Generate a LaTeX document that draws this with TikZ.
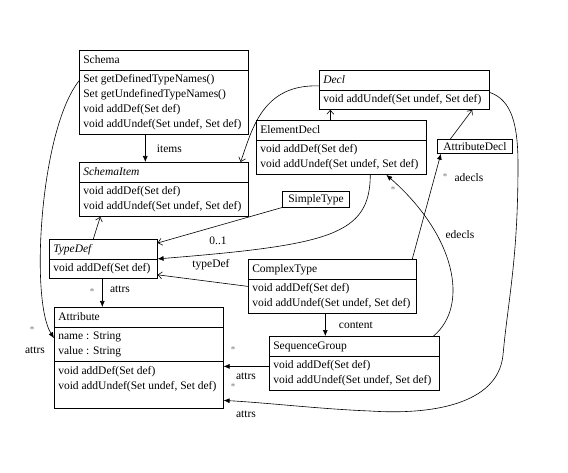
\documentclass[tikz,border=0pt]{standalone}
\usepackage{fontspec}
\setmainfont{Liberation Serif}
\usetikzlibrary{arrows.meta,shapes.multipart}

\begin{document}
\begin{tikzpicture}[x=1pt,y=-1pt,line width=0.6pt,
    font=\fontsize{11.5}{15}\selectfont,
    class/.style={draw,rectangle split,rectangle split parts=2,anchor=north west,
        align=left,rectangle split part align=left,inner xsep=4pt,inner ysep=2pt},
    box/.style={draw,anchor=north west,inner xsep=6pt,inner ysep=3pt},
    has/.style={-{Latex[length=6pt,width=5pt]}},
    isa/.style={-{Straight Barb[length=4pt,width=7pt]}},
    mult/.style={text=black!55,font=\small}]
\useasboundingbox (0,0) rectangle (568,473);
% classes
\node [class,minimum width=169pt] (schema) at (79,50) {\strut Schema
    \nodepart{two}\strut Set getDefinedTypeNames()\\ \strut Set getUndefinedTypeNames()\\
    \strut void addDef(Set def)\\ \strut void addUndef(Set undef, Set def)};
\node [class,minimum width=169pt] (item) at (79,162) {\strut\textit{SchemaItem}
    \nodepart{two}\strut void addDef(Set def)\\ \strut void addUndef(Set undef, Set def)};
\node [class,minimum width=170pt] (decl) at (319,70) {\strut\textit{Decl}
    \nodepart{two}\strut void addUndef(Set undef, Set def)};
\node [class,minimum width=170pt] (elem) at (256,120) {\strut ElementDecl
    \nodepart{two}\strut void addDef(Set def)\\ \strut void addUndef(Set undef, Set def)};
\node [box] (attdecl) at (437,139) {AttributeDecl};
\node [box] (simple) at (282,191) {SimpleType};
\node [class,minimum width=108pt] (typedef) at (49,239) {\strut\textit{TypeDef}
    \nodepart{two}\strut void addDef(Set def)};
\node [class,rectangle split parts=3,minimum width=169pt] (attr) at (54,307) {\strut Attribute
    \nodepart{two}\strut name : String\\ \strut value : String
    \nodepart{three}\strut void addDef(Set def)\\ \strut void addUndef(Set undef, Set def)\\[-3pt] \strut};
\node [class,minimum width=168pt] (complex) at (248,259) {\strut ComplexType
    \nodepart{two}\strut void addDef(Set def)\\ \strut void addUndef(Set undef, Set def)};
\node [class,minimum width=170pt] (seq) at (269,336) {\strut SequenceGroup
    \nodepart{two}\strut void addDef(Set def)\\ \strut void addUndef(Set undef, Set def)};

% inheritance
\draw [isa] ([xshift=-10pt]typedef.north) -- ([xshift=-63.5pt]item.south);
\draw [isa] ([yshift=4pt]decl.west) .. controls (262,84) and (252,130) .. ([xshift=-8pt]item.north east);
\draw [isa] ([xshift=-11pt]elem.north) -- ([xshift=-11pt]elem.north |- decl.south);
\draw [isa] ([xshift=-24.5pt]attdecl.north) -- ([xshift=68pt]decl.south);
\draw [isa] ([yshift=-8pt]simple.west) -- ([yshift=-4pt]typedef.north east);
\draw [isa] (complex.west) -- ([yshift=4pt]typedef.south east);

% associations
\draw [has] ([xshift=-18.5pt]schema.south) -- ([xshift=-18.5pt]item.north)
    node[pos=0.5,right=8pt] (items) {items};
\draw [has] ([xshift=-1pt]typedef.south) -- ([xshift=-1pt]typedef.south |- attr.north);
\node [mult] (m1) at (92,292) {*};
\node (a1) at (120,289) {attrs};
\draw [has] ([yshift=11.5pt]schema.west) .. controls (40,130) and (30,300) .. ([yshift=19.5pt]attr.west);
\node [mult] (m2) at (32,330) {*};
\node (a2) at (35,350) {attrs};
\draw [has] ([xshift=29pt]elem.south) .. controls (370,235) and (330,245) .. (typedef.east);
\node (card) at (218,241) {0..1};
\node (role) at (211,265) {typeDef};
\draw [has] ([xshift=-7pt]complex.south) -- ([xshift=-7pt]complex.south |- seq.north)
    node[pos=0.5,right=10pt] (content) {content};
\draw [has] ([yshift=-3pt]seq.west) -- ([yshift=-3pt]seq.west -| attr.east);
\node [mult] (m3) at (233,350) {*};
\node (a3) at (246,376) {attrs};
\draw [has] ([xshift=-6pt]seq.north east) .. controls (470,305) and (455,235) .. ([xshift=45pt]elem.south);
\node [mult] (m4) at (393,190) {*};
\node (edecls) at (460,235) {edecls};
\draw [has] ([xshift=80pt]complex.north) -- ([xshift=-34pt]attdecl.south);
\node [mult] (m5) at (445,177) {*};
\node (adecls) at (469,178) {adecls};
\draw [has] ([yshift=-2.5pt]decl.east) .. controls (512,100) and (518,125) .. (518,165)
    .. controls (518,260) and (508,300) .. (503,355)
    .. controls (498,405) and (430,415) .. (370,411)
    .. controls (320,409) and (270,403) .. ([yshift=8pt]attr.south east);
\node [mult] (m6) at (233,387) {*};
\node (a4) at (246,414) {attrs};
\end{tikzpicture}
\end{document}
